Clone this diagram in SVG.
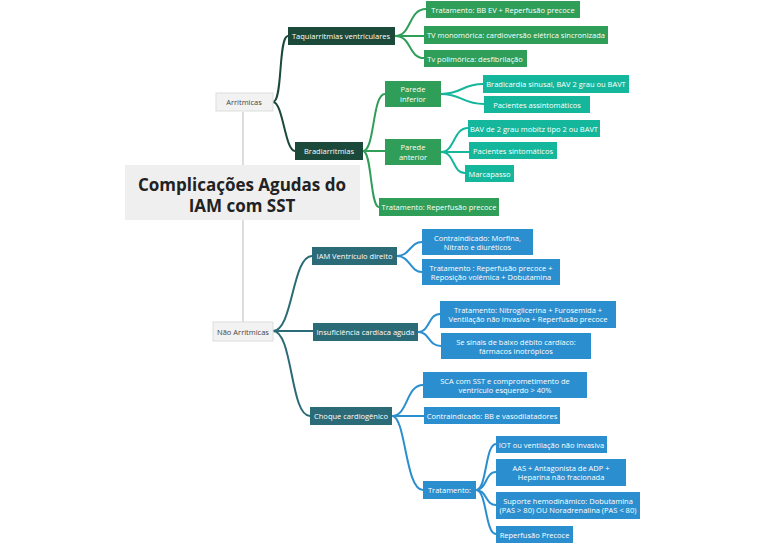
<svg xmlns="http://www.w3.org/2000/svg" width="768" height="543" viewBox="0 0 768 543">
<style>
text{font-family:"Open Sans","Noto Sans",sans-serif;font-size:7.5px;fill:#fff;text-anchor:middle;dominant-baseline:central}
.g rect{fill:#2e9e58}.t rect{fill:#15b79c}.d rect{fill:#1b4a3a}.s rect{fill:#2b6b78}.b rect{fill:#2b8fcf}
.w rect{fill:#f2f2f2;stroke:#ddd}.w text{fill:#444}
path{fill:none;stroke-width:2}
.cg{stroke:#2e9e58}.cd{stroke:#1b4a3a}.ct{stroke:#15b79c}.cs{stroke:#2b6b78}.cb{stroke:#2b8fcf}
</style>
<rect width="768" height="543" fill="#fff"/>
<g id="connectors">
<path d="M243 112V165M243 220V322" stroke="#ddd" stroke-width="3"/>
<path class="cd" d="M273 102C283 102 278 36 288 36M273 102C283 102 285 151 295 151"/>
<path class="cg" d="M395 36C412 36 408 9 426 9M395 36H424M395 36C412 36 408 58 424 58"/>
<path class="cg" d="M363 151C375 151 372 94 385 94M363 151H385M363 151C372 151 370 207 379 207"/>
<path class="ct" d="M441 94C462 94 462 84 483 84M441 94C462 94 462 104 484 104"/>
<path class="ct" d="M441 152C455 152 453 128 468 128M441 152H469M441 152C455 152 452 173 465 173"/>
<path class="cs" d="M273 331C293 331 292 256 312 256M273 331H313M273 331C293 331 290 416 310 416"/>
<path class="cb" d="M397 256C410 256 410 242 422 242M397 256C410 256 410 272 422 272"/>
<path class="cb" d="M418 332C430 332 428 314 440 314M418 332C430 332 428 346 441 346"/>
<path class="cb" d="M392 416C408 416 406 385 423 385M392 416H424M392 416C406 416 405 490 423 490"/>
<path class="cb" d="M476 490C487 490 485 444 496 444M476 490C487 490 485 472 496 472M476 490C487 490 485 505 496 505M476 490C487 490 485 534 496 534"/>
</g>
<g id="root"><rect x="125" y="165" width="235" height="55" fill="#efefef"/><text x="242" y="184" style="font-size:17px;font-weight:bold;fill:#222">Complicações Agudas do</text><text x="242" y="205" style="font-size:17px;font-weight:bold;fill:#222">IAM com SST</text></g>
<g id="arr" class="w"><rect x="216" y="93" width="57" height="18"/><text x="244" y="102">Arritmicas</text></g>
<g id="taqui" class="d"><rect x="288" y="27" width="107" height="18"/><text x="341" y="36">Taquiarritmias ventriculares</text></g>
<g id="t1" class="g"><rect x="426" y="1" width="154" height="17"/><text x="503" y="9.5">Tratamento: BB EV + Reperfusão precoce</text></g>
<g id="t2" class="g"><rect x="424" y="26" width="184" height="18"/><text x="516" y="35">TV monomórica: cardioversão elétrica sincronizada</text></g>
<g id="t3" class="g"><rect x="424" y="50" width="103" height="17"/><text x="475" y="58.5">Tv polimórica: desfibrilação</text></g>
<g id="bradi" class="d"><rect x="295" y="142" width="68" height="18"/><text x="329" y="151">Bradiarritmias</text></g>
<g id="pinf" class="g"><rect x="385" y="81" width="56" height="26"/><text x="413" y="89">Parede</text><text x="413" y="99">inferior</text></g>
<g id="b1" class="t"><rect x="483" y="75" width="146" height="18"/><text x="556" y="84">Bradicardia sinusal, BAV 2 grau ou BAVT</text></g>
<g id="b2" class="t"><rect x="484" y="96" width="106" height="17"/><text x="537" y="104.5">Pacientes assintomáticos</text></g>
<g id="pant" class="g"><rect x="385" y="139" width="56" height="26"/><text x="413" y="147">Parede</text><text x="413" y="157">anterior</text></g>
<g id="b3" class="t"><rect x="468" y="120" width="132" height="17"/><text x="534" y="128.5">BAV de 2 grau mobitz tipo 2 ou BAVT</text></g>
<g id="b4" class="t"><rect x="469" y="142" width="88" height="17"/><text x="513" y="150.5">Pacientes sintomáticos</text></g>
<g id="b5" class="t"><rect x="465" y="165" width="49" height="17"/><text x="489.5" y="173.5">Marcapasso</text></g>
<g id="btr" class="g"><rect x="379" y="198" width="120" height="18"/><text x="439" y="207">Tratamento: Reperfusão precoce</text></g>
<g id="nao" class="w"><rect x="213" y="322" width="60" height="19"/><text x="243" y="331.5">Não Arritmicas</text></g>
<g id="iamvd" class="s"><rect x="312" y="247" width="85" height="18"/><text x="354.5" y="256">IAM Ventrículo direito</text></g>
<g id="n1" class="b"><rect x="422" y="229" width="111" height="26"/><text x="477.5" y="237.5">Contraindicado: Morfina,</text><text x="477.5" y="246.5">Nitrato e diuréticos</text></g>
<g id="n2" class="b"><rect x="422" y="259" width="138" height="26"/><text x="491" y="267.5">Tratamento : Reperfusão precoce +</text><text x="491" y="276.5">Reposição volêmica + Dobutamina</text></g>
<g id="ica" class="s"><rect x="313" y="323" width="105" height="18"/><text x="365.5" y="332">Insuficiência cardíaca aguda</text></g>
<g id="n3" class="b"><rect x="440" y="301" width="176" height="27"/><text x="528" y="310">Tratamento: Nitroglicerina + Furosemida +</text><text x="528" y="319">Ventilação não invasiva + Reperfusão precoce</text></g>
<g id="n4" class="b"><rect x="441" y="333" width="150" height="26"/><text x="516" y="341.5">Se sinais de baixo débito cardíaco:</text><text x="516" y="350.5">fármacos inotrópicos</text></g>
<g id="choque" class="s"><rect x="310" y="407" width="82" height="18"/><text x="351" y="416">Choque cardiogênico</text></g>
<g id="n5" class="b"><rect x="423" y="372" width="164" height="26"/><text x="505" y="380.5">SCA com SST e comprometimento de</text><text x="505" y="389.5">ventrículo esquerdo &gt; 40%</text></g>
<g id="n6" class="b"><rect x="424" y="407" width="136" height="17"/><text x="492" y="415.5">Contraindicado: BB e vasodilatadores</text></g>
<g id="ntr" class="b"><rect x="423" y="481" width="53" height="18"/><text x="449.5" y="490">Tratamento:</text></g>
<g id="n7" class="b"><rect x="496" y="436" width="111" height="17"/><text x="551.5" y="444.5">IOT ou ventilação não invasiva</text></g>
<g id="n8" class="b"><rect x="496" y="459" width="130" height="27"/><text x="561" y="468">AAS + Antagonista de ADP +</text><text x="561" y="477">Heparina não fracionada</text></g>
<g id="n9" class="b"><rect x="496" y="492" width="144" height="27"/><text x="568" y="501">Suporte hemodinâmico: Dobutamina</text><text x="568" y="510">(PAS &gt; 80) OU Noradrenalina (PAS &lt; 80)</text></g>
<g id="n10" class="b"><rect x="496" y="526" width="77" height="17"/><text x="534.5" y="534.5">Reperfusão Precoce</text></g>
</svg>
